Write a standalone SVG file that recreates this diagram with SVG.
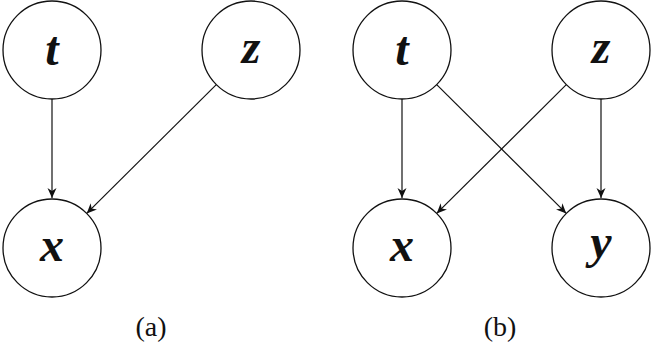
<svg xmlns="http://www.w3.org/2000/svg" width="652" height="343" viewBox="0 0 652 343">
<style>
.node{fill:#fff;stroke:#111;stroke-width:1.3}
.lbl{font-family:"Liberation Serif","DejaVu Serif",serif;font-weight:bold;font-style:italic;font-size:48px;fill:#111;text-anchor:middle}
.cap{font-family:"Liberation Serif","DejaVu Serif",serif;font-size:28px;fill:#111;text-anchor:middle}
.edge{stroke:#111;stroke-width:1.2;fill:none;marker-end:url(#arr)}
</style>
<defs>
<marker id="arr" markerUnits="userSpaceOnUse" markerWidth="12" markerHeight="10" viewBox="-11 -5 12 10" refX="0" refY="0" orient="auto">
<path d="M0,0 L-10,-4.5 L-7,0 L-10,4.5 Z" fill="#111"/>
</marker>
</defs>
<rect width="652" height="343" fill="#fff"/>
<g id="edges">
<line class="edge" x1="52" y1="99" x2="52" y2="198"/>
<line class="edge" x1="216.3" y1="84.6" x2="86.7" y2="213.4"/>
<line class="edge" x1="402" y1="99" x2="402" y2="198"/>
<line class="edge" x1="436.7" y1="84.6" x2="566.3" y2="213.4"/>
<line class="edge" x1="566.3" y1="84.6" x2="436.7" y2="213.4"/>
<line class="edge" x1="601" y1="99" x2="601" y2="198"/>
</g>
<g id="a_t"><circle class="node" cx="52" cy="50" r="49"/><text class="lbl" x="52" y="65">t</text></g>
<g id="a_z"><circle class="node" cx="251" cy="50" r="49"/><text class="lbl" x="251" y="63">z</text></g>
<g id="a_x"><circle class="node" cx="52" cy="248" r="49"/><text class="lbl" x="52" y="261">x</text></g>
<g id="b_t"><circle class="node" cx="402" cy="50" r="49"/><text class="lbl" x="402" y="65">t</text></g>
<g id="b_z"><circle class="node" cx="601" cy="50" r="49"/><text class="lbl" x="601" y="63">z</text></g>
<g id="b_x"><circle class="node" cx="402" cy="248" r="49"/><text class="lbl" x="402" y="261">x</text></g>
<g id="b_y"><circle class="node" cx="601" cy="248" r="49"/><text class="lbl" x="601" y="258">y</text></g>
<text class="cap" x="151" y="336">(a)</text>
<text class="cap" x="500" y="336">(b)</text>
</svg>
